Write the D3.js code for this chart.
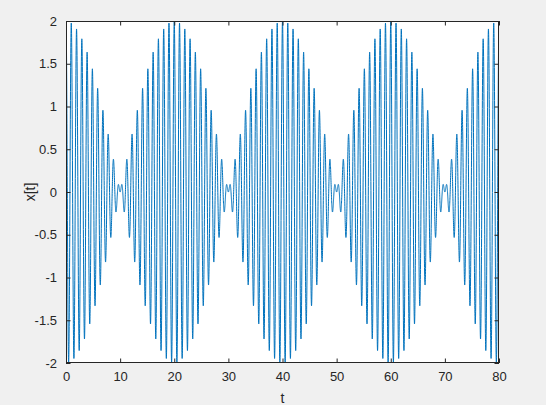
<!DOCTYPE html>
<html>
<head>
<meta charset="utf-8">
<script src="https://cdn.jsdelivr.net/npm/d3@7"></script>
<style>
  html, body { margin: 0; padding: 0; background: #f0f0f0; }
  svg { display: block; }
  text { font-family: "Liberation Sans", Arial, Helvetica, sans-serif; fill: #262626; }
</style>
</head>
<body>
<svg id="chart" width="546" height="405"></svg>
<script>
// Signal: two equal cosines (beat pattern, envelope zeros at t = 10, 30, 50, 70)
const componentFreqs = [1, 1.05];      // Hz
const componentAmps = [1, 1];
const tRange = [0, 80];
const tStep = 0.01;
const xTicks = [0, 10, 20, 30, 40, 50, 60, 70, 80];
const yTicks = [-2, -1.5, -1, -0.5, 0, 0.5, 1, 1.5, 2];
const yDomain = [-2, 2];
const xLabel = "t";
const yLabel = "x[t]";

// Build samples
const tValues = d3.range(tRange[0], tRange[1] + tStep / 2, tStep);
const samples = tValues.map(t => ({
  t: t,
  x: d3.sum(componentFreqs, (f, i) => componentAmps[i] * Math.cos(2 * Math.PI * f * t))
}));

const svg = d3.select("#chart");
const W = 546, H = 405;
const margin = { left: 66, right: 47, top: 21, bottom: 42 };
const iw = W - margin.left - margin.right;
const ih = H - margin.top - margin.bottom;

const x = d3.scaleLinear().domain(tRange).range([margin.left, margin.left + iw]);
const y = d3.scaleLinear().domain(yDomain).range([margin.top + ih, margin.top]);

// Axes background
svg.append("rect")
  .attr("x", margin.left).attr("y", margin.top)
  .attr("width", iw).attr("height", ih)
  .attr("fill", "#ffffff");

svg.append("clipPath").attr("id", "clip")
  .append("rect")
  .attr("x", margin.left).attr("y", margin.top - 1)
  .attr("width", iw).attr("height", ih + 2);

// Line
const line = d3.line().x(d => x(d.t)).y(d => y(d.x));
svg.append("path")
  .datum(samples)
  .attr("clip-path", "url(#clip)")
  .attr("fill", "none")
  .attr("stroke", "#0072BD")
  .attr("stroke-width", 1)
  .attr("stroke-linejoin", "round")
  .attr("d", line);

const tickLen = 4.5;
const axisColor = "#262626";

function styleAxis(g) {
  g.selectAll(".domain").remove();
  g.selectAll(".tick line").attr("stroke", axisColor).attr("stroke-width", 1);
  g.selectAll(".tick text").attr("font-size", "13px").attr("fill", axisColor);
}

// Bottom axis
svg.append("g")
  .attr("transform", `translate(0,${margin.top + ih})`)
  .call(d3.axisBottom(x).tickValues(xTicks).tickFormat(d3.format("d")).tickSizeInner(-tickLen).tickSizeOuter(0).tickPadding(9))
  .call(styleAxis);

// Top axis ticks (no labels)
svg.append("g")
  .attr("transform", `translate(0,${margin.top})`)
  .call(d3.axisTop(x).tickValues(xTicks).tickFormat("").tickSizeInner(-tickLen).tickSizeOuter(0))
  .call(styleAxis);

// Left axis
svg.append("g")
  .attr("transform", `translate(${margin.left},0)`)
  .call(d3.axisLeft(y).tickValues(yTicks).tickFormat(d => String(d)).tickSizeInner(-tickLen).tickSizeOuter(0).tickPadding(9))
  .call(styleAxis);

// Right axis ticks (no labels)
svg.append("g")
  .attr("transform", `translate(${margin.left + iw},0)`)
  .call(d3.axisRight(y).tickValues(yTicks).tickFormat("").tickSizeInner(-tickLen).tickSizeOuter(0))
  .call(styleAxis);

// Box
svg.append("rect")
  .attr("x", margin.left + 0.5).attr("y", margin.top + 0.5)
  .attr("width", iw - 1).attr("height", ih - 1)
  .attr("fill", "none")
  .attr("stroke", axisColor)
  .attr("stroke-width", 1);

// Axis labels
svg.append("text")
  .attr("x", margin.left + iw / 2).attr("y", 403)
  .attr("text-anchor", "middle")
  .attr("font-size", "14px")
  .text(xLabel);

svg.append("text")
  .attr("transform", `translate(35,${margin.top + ih / 2}) rotate(-90)`)
  .attr("text-anchor", "middle")
  .attr("font-size", "14px")
  .text(yLabel);
</script>
</body>
</html>
